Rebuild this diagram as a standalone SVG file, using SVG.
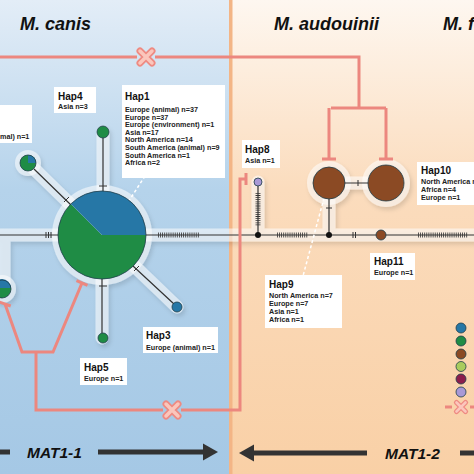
<svg xmlns="http://www.w3.org/2000/svg" width="474" height="474" viewBox="0 0 474 474">
<defs>
<linearGradient id="gBlue" x1="0" y1="0" x2="0" y2="1">
<stop offset="0" stop-color="#e3edf7"/><stop offset="0.4" stop-color="#b5d3eb"/><stop offset="1" stop-color="#a5c8e5"/>
</linearGradient>
<linearGradient id="gPeach" x1="0" y1="0" x2="0" y2="1">
<stop offset="0" stop-color="#fef7f0"/><stop offset="0.4" stop-color="#fbdcbd"/><stop offset="1" stop-color="#f9d0a6"/>
</linearGradient>
<filter id="sh" x="-20%" y="-20%" width="140%" height="140%">
<feDropShadow dx="2" dy="3" stdDeviation="2" flood-color="#000" flood-opacity="0.22"/>
</filter>
<g id="xmark">
<path d="M-6,-6 L6,6 M6,-6 L-6,6" stroke="#ee8a82" stroke-width="7" stroke-linecap="round" fill="none"/>
<path d="M-6,-6 L6,6 M6,-6 L-6,6" stroke="#fbc6bc" stroke-width="3.5" stroke-linecap="round" fill="none"/>
</g>
</defs>
<style>
.title{font-family:"Liberation Sans",Arial,sans-serif;font-weight:bold;font-style:italic;font-size:18px;fill:#111}
.mat{font-family:"Liberation Sans",Arial,sans-serif;font-weight:bold;font-style:italic;font-size:15.5px;fill:#111}
.hap{font-family:"Liberation Sans",Arial,sans-serif;font-weight:bold;font-size:10px;fill:#111}
.info{font-family:"Liberation Sans",Arial,sans-serif;font-weight:bold;font-size:7.2px;fill:#222}
.box{fill:#fff}
.red{stroke:#ec877f;stroke-width:3;fill:none}
.halo{stroke:#ffffff;stroke-opacity:0.55;stroke-width:13;stroke-linecap:round;fill:none}
.haloc{fill:#ffffff;fill-opacity:0.55}
.edge{stroke:#333;stroke-width:1.2;fill:none}
.tick{stroke:#333;stroke-width:5;stroke-dasharray:0.8 1.3;fill:none}
.tk{stroke:#333;stroke-width:1;fill:none}
.arrow{stroke:#333;stroke-width:5;fill:none}
.nd{stroke:#1e3d4a;stroke-width:0.8}
.dash{stroke:#fff;stroke-width:1.5;stroke-dasharray:3 2.5;fill:none}
</style>

<!-- backgrounds -->
<rect x="0" y="0" width="230" height="474" fill="url(#gBlue)"/>
<rect x="232" y="0" width="242" height="474" fill="url(#gPeach)"/>
<rect x="229" y="0" width="3.5" height="474" fill="#f3b586"/>

<!-- titles -->
<text class="title" x="20" y="30">M. canis</text>
<text class="title" x="274" y="30">M. audouinii</text>
<text class="title" x="443" y="30">M. f</text>

<!-- halo of network -->
<g id="halo" filter="url(#sh)">
<path class="halo" d="M-5,235 H474 M103,132 V235 M28,163 L102,235 L177,307 M102,235 V338 M258,182 V235 M329,183 V235 M329,183 H386 M4,240 V288"/>
<circle class="haloc" cx="102" cy="235" r="50"/>
<circle class="haloc" cx="329" cy="183" r="22"/>
<circle class="haloc" cx="386" cy="183" r="24"/>
<circle class="haloc" cx="28" cy="163" r="13"/>
<circle class="haloc" cx="2" cy="289" r="14"/>
</g>

<!-- connectors -->
<g id="connectors">
<!-- network edges -->
<path class="edge" d="M0,235 H60 M146,235 H474 M103,138 V192 M34,169 L71,205 M102,278 V333 M133,266 L174,304 M258,186 V235 M329,199 V235 M345,183 H368"/>
<path class="tick" d="M158,235 H200 M277,235 H308 M418,235 H468 M258,193 V226"/>
<path class="tk" d="M46,232 V238 M48.5,232 V238 M51,232 V238 M99,186 H107 M99,286 H107 M64,202 L69,197 M134,271 L139,266 M326,208 H332 M358,180 V186 M353,232 V238 M355.5,232 V238"/>
<!-- red lines -->
<path class="red" d="M0,57 H137 M155,57 H359 V108 M331,108 H386 M329,108 V159 M386,108 V159 M322,159 H336 M379,159 H393"/>
<path class="red" d="M5,304 L22,352 H53 L82,283 M36,352 V410 H163 M181,410 H240 V179 H246 M246,173 V185 M-0.7,302 L10.7,306 M76.5,280.7 L87.5,285.3"/>
<use href="#xmark" x="146" y="57"/>
<use href="#xmark" x="172" y="410"/>
<!-- dashed pointers -->
<path class="dash" d="M145,176 L116,221 M327,187 L303,276"/>
</g>

<!-- nodes -->
<g id="Hap1">
<path d="M102,235 L146,235 A44,44 0 1 1 70.9,203.9 Z" fill="#1f8c45"/>
<path d="M102,235 L70.9,203.9 A44,44 0 0 1 146,235 Z" fill="#2677a6"/>
<circle cx="102" cy="235" r="44" fill="none" class="nd"/>
</g>
<g id="Hap4"><circle cx="103" cy="132" r="6" fill="#1f8c45" class="nd"/></g>
<g id="HapA">
<circle cx="28" cy="163" r="8" fill="#1f8c45"/>
<path d="M28,163 L28,155 A8,8 0 0 1 36,163 Z" fill="#2677a6"/>
<circle cx="28" cy="163" r="8" fill="none" class="nd"/>
</g>
<g id="HapB">
<circle cx="2" cy="289" r="9" fill="#1f8c45"/>
<path d="M-7,288 A9,9 0 0 1 11,288 Z" fill="#2677a6"/>
<circle cx="2" cy="289" r="9" fill="none" class="nd"/>
</g>
<g id="Hap5"><circle cx="103" cy="338" r="5" fill="#1f8c45" class="nd"/></g>
<g id="Hap3"><circle cx="177" cy="307" r="5" fill="#2677a6" class="nd"/></g>
<g id="Hap8"><circle cx="258" cy="182" r="4" fill="#a899d6" class="nd"/></g>
<g id="Hap9"><circle cx="329" cy="183" r="16" fill="#8b4a24" class="nd"/></g>
<g id="Hap10"><circle cx="386" cy="183" r="18" fill="#8b4a24" class="nd"/></g>
<g id="Hap11"><circle cx="381" cy="235" r="5" fill="#8b4a24" class="nd"/></g>
<g id="junctions">
<circle cx="258" cy="235" r="3" fill="#111"/>
<circle cx="329" cy="235" r="3" fill="#111"/>
</g>

<!-- labels -->
<g id="label-left">
<rect class="box" x="-2" y="105" width="34" height="38"/>
<text class="info" x="0" y="139">mal) n=1</text>
</g>
<g id="label-Hap4">
<rect class="box" x="54" y="87" width="42" height="26"/>
<text class="hap" x="58" y="100">Hap4</text>
<text class="info" x="58" y="109">Asia n=3</text>
</g>
<g id="label-Hap1">
<rect class="box" x="122" y="85" width="103" height="93"/>
<text class="hap" x="125" y="100">Hap1</text>
<text class="info" x="125" y="112">Europe (animal) n=37</text>
<text class="info" x="125" y="119.6">Europe n=37</text>
<text class="info" x="125" y="127.2">Europe (environment) n=1</text>
<text class="info" x="125" y="134.8">Asia n=17</text>
<text class="info" x="125" y="142.4">North America n=14</text>
<text class="info" x="125" y="150">South America (animal) n=9</text>
<text class="info" x="125" y="157.6">South America n=1</text>
<text class="info" x="125" y="165.2">Africa n=2</text>
</g>
<g id="label-Hap8">
<rect class="box" x="242" y="140" width="38" height="28"/>
<text class="hap" x="245" y="153">Hap8</text>
<text class="info" x="245" y="163">Asia n=1</text>
</g>
<g id="label-Hap10">
<rect class="box" x="417" y="162" width="60" height="43"/>
<text class="hap" x="421" y="174">Hap10</text>
<text class="info" x="421" y="184">North America n=</text>
<text class="info" x="421" y="192">Africa n=4</text>
<text class="info" x="421" y="200">Europe n=1</text>
</g>
<g id="label-Hap11">
<rect class="box" x="370" y="253" width="45" height="27"/>
<text class="hap" x="374" y="265">Hap11</text>
<text class="info" x="374" y="275">Europe n=1</text>
</g>
<g id="label-Hap9">
<rect class="box" x="265" y="275" width="77" height="53"/>
<text class="hap" x="269" y="288">Hap9</text>
<text class="info" x="269" y="298">North America n=7</text>
<text class="info" x="269" y="306">Europe n=7</text>
<text class="info" x="269" y="314">Asia n=1</text>
<text class="info" x="269" y="322">Africa n=1</text>
</g>
<g id="label-Hap3">
<rect class="box" x="143" y="327" width="75" height="26"/>
<text class="hap" x="146" y="339">Hap3</text>
<text class="info" x="146" y="350">Europe (animal) n=1</text>
</g>
<g id="label-Hap5">
<rect class="box" x="80" y="358" width="47" height="27"/>
<text class="hap" x="84" y="371">Hap5</text>
<text class="info" x="84" y="381">Europe n=1</text>
</g>

<!-- legend -->
<g id="legend">
<circle cx="461" cy="328" r="5" fill="#2677a6" class="nd"/>
<circle cx="461" cy="341" r="5" fill="#1f8c45" class="nd"/>
<circle cx="461" cy="354" r="5" fill="#8b4a24" class="nd"/>
<circle cx="461" cy="366.5" r="5" fill="#a8cc5e" class="nd"/>
<circle cx="461" cy="379" r="5" fill="#8c1d4c" class="nd"/>
<circle cx="461" cy="392" r="5" fill="#a899d6" class="nd"/>
<path class="red" d="M445,407 H452 M470,407 H474"/>
<use href="#xmark" x="461" y="407" transform="translate(461 407) scale(0.75) translate(-461 -407)"/>
</g>

<!-- MAT arrows -->
<g id="mat">
<path class="arrow" d="M0,452 H10 M98,452 H206 M252,453 H367 M460,453 H474"/>
<polygon points="203,443.5 218,452 203,460.5" fill="#333"/>
<polygon points="254,444.5 239,453 254,461.5" fill="#333"/>
<text class="mat" x="27" y="458">MAT1-1</text>
<text class="mat" x="385" y="459">MAT1-2</text>
</g>
</svg>
